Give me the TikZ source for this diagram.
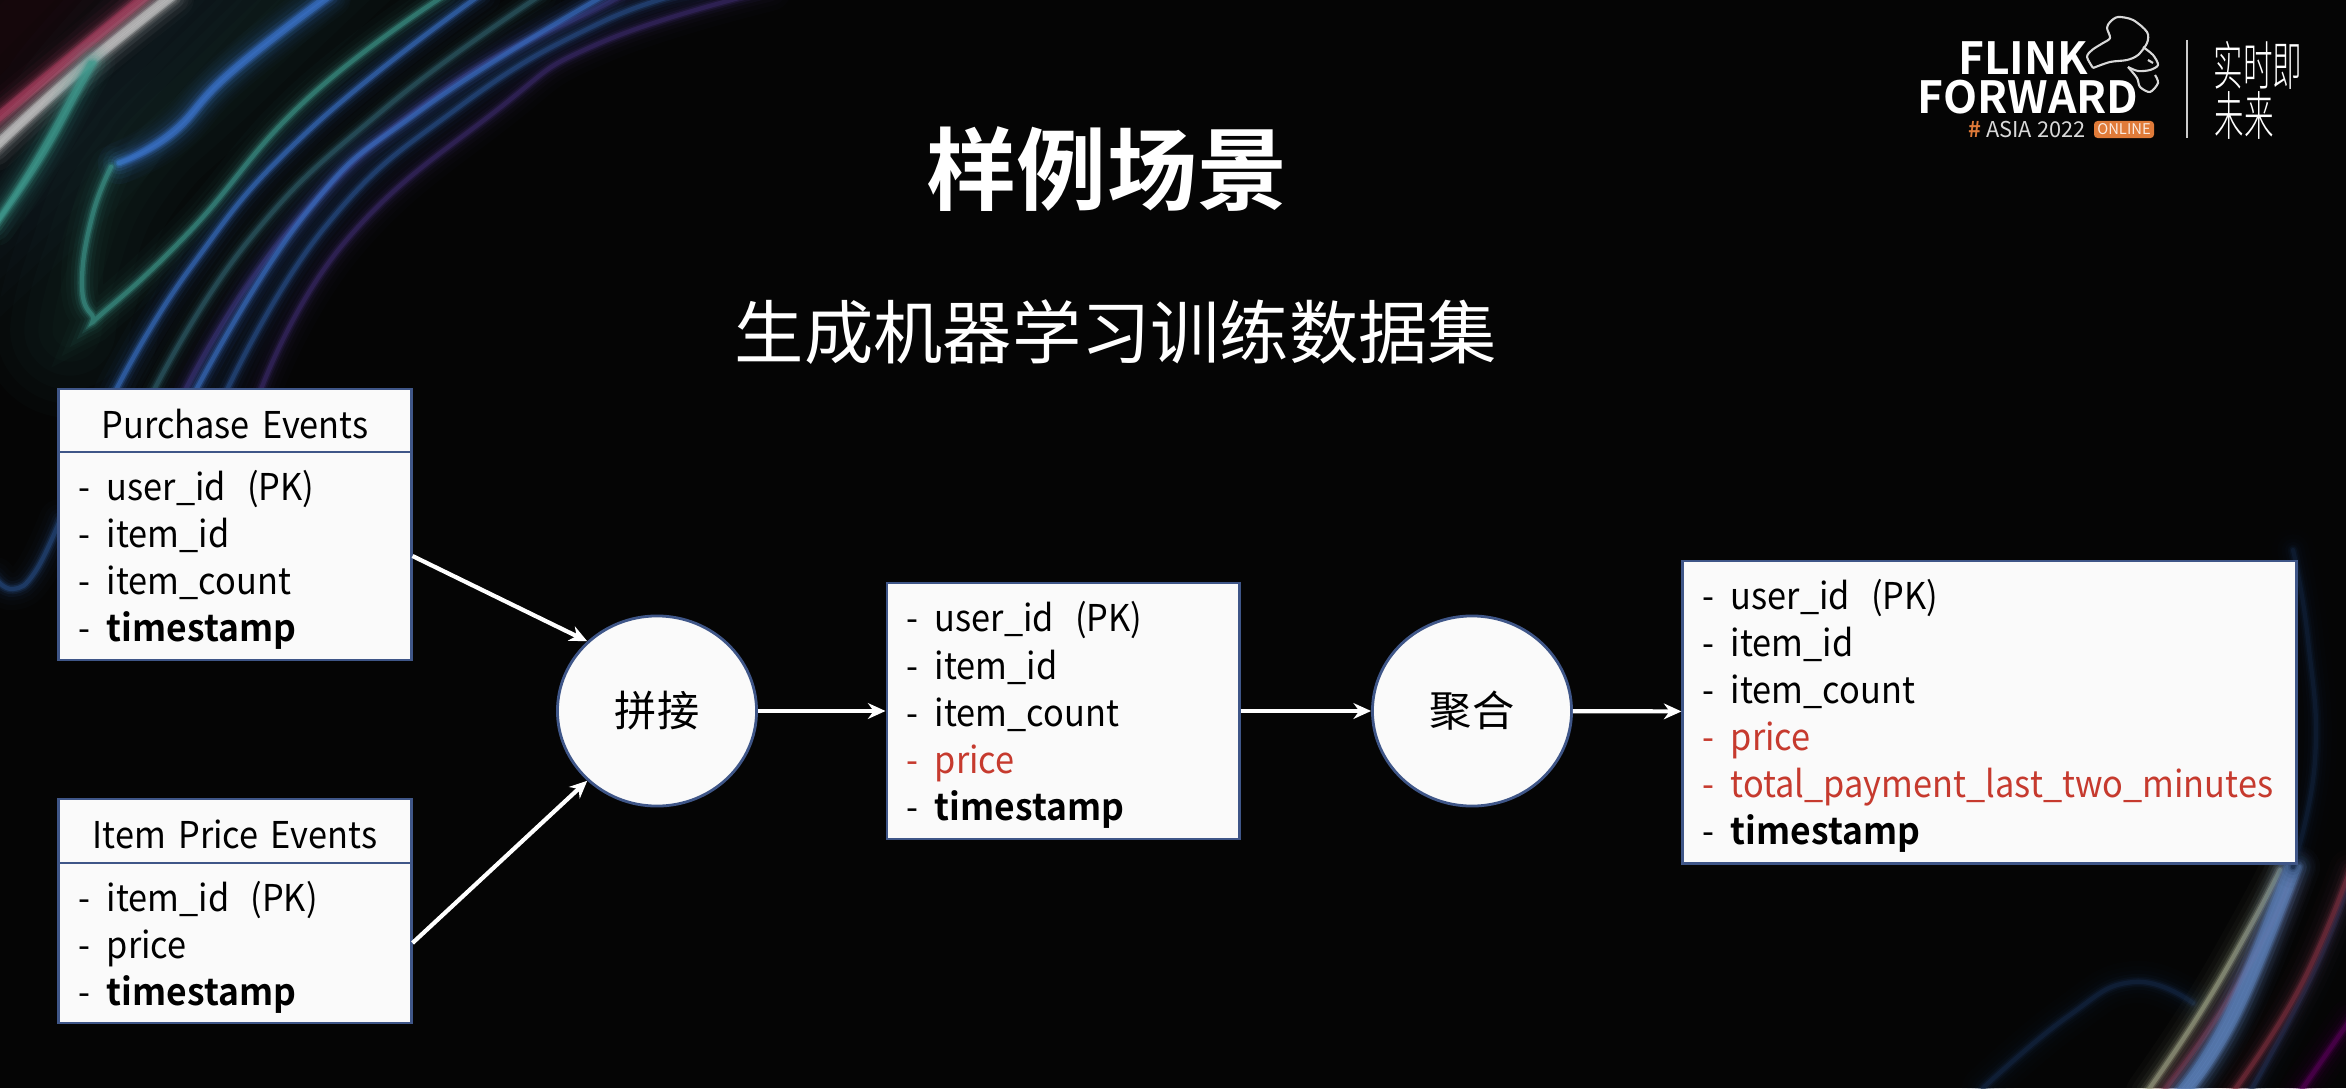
\documentclass[tikz,border=0pt]{standalone}
\usepackage{fontspec}
\setmainfont{Noto Sans CJK SC}[BoldFont={Noto Sans CJK SC Bold}]
\newfontfamily\logolight{Noto Sans CJK SC Light}
\newfontfamily\fieldfont{Noto Sans CJK SC}[FakeStretch=0.93,BoldFont={Noto Sans CJK SC Bold},BoldFeatures={FakeStretch=0.96}]
\usetikzlibrary{arrows.meta,shapes.geometric}
\definecolor{slide}{HTML}{050505}
\definecolor{boxedge}{HTML}{3F5688}
\definecolor{boxfill}{HTML}{FAFAFA}
\definecolor{newfield}{HTML}{C63A2E}
\definecolor{logoorange}{HTML}{E07B39}
\definecolor{sblue}{HTML}{3A72C8}
\definecolor{steal}{HTML}{3F9A8E}
\definecolor{sdim}{HTML}{2F5F6A}
\definecolor{spurple}{HTML}{3B2A6A}
\definecolor{spink}{HTML}{A83A5C}
\definecolor{sred}{HTML}{7E2F3E}
\definecolor{sgreen}{HTML}{A8B090}
\newcommand{\swirl}[2]{\foreach \w/\o in {12pt/.03,9pt/.04,6.5pt/.06,4.5pt/.10,3pt/.16,2pt/.28,1.2pt/.5}
  {\draw[#1,line width=\w,opacity=\o,line cap=round] plot[smooth,tension=0.8] coordinates {#2};}}
\newcommand{\haze}[2]{\foreach \w in {50pt,42pt,34pt,26pt,18pt,10pt}
  {\draw[#1,line width=\w,opacity=.035,line cap=round] plot[smooth,tension=0.8] coordinates {#2};}}
\newcommand{\fld}[1]{\raisebox{-1.3pt}[9pt][3pt]{\makebox[8.1pt][l]{-}#1}}
\tikzset{
  fieldbox/.style={draw=boxedge,fill=boxfill,line width=0.8pt,rectangle,inner xsep=5.5pt,inner ysep=0pt,
    text=black,font=\fontsize{10.5pt}{13.4pt}\fieldfont\selectfont,align=left},
  headbox/.style={fieldbox,align=center,minimum width=3.52cm,text width=3.13cm},
  stepnode/.style={draw=boxedge,fill=boxfill,line width=0.8pt,ellipse,minimum width=1.99cm,minimum height=1.9cm,
    inner sep=0pt,text=black,font=\fontsize{12pt}{14pt}\selectfont},
  flow/.style={draw=white,line width=1.2pt,-{Stealth[length=5pt,width=4.5pt]}},
  logotext/.style={text=white,inner sep=0pt,font=\fontsize{12.6pt}{14pt}\selectfont\bfseries},
  logoline/.style={draw=white!85!black,line width=0.6pt,line join=round}
}
\begin{document}
\begin{tikzpicture}[x=0.01cm,y=-0.01cm]
\useasboundingbox (0,0) rectangle (2346,1088);
\fill[slide] (0,0) rectangle (2346,1088);
\begin{scope}
\clip (0,0) rectangle (2346,1088);
\haze{steal!70!black}{(70,330) (85,270) (130,170) (230,70) (420,-110)}
\haze{sdim}{(-90,280) (60,140) (110,80) (280,-110)}
\haze{spink!60!black}{(-100,130) (110,-80)}
\foreach \s in {-3,3}{\swirl{spink}{(-5,120+\s) (70,58+\s) (147,-5+\s)}}
\foreach \s in {-3,3}{\swirl{white!80!black}{(-5,147+\s) (80,70+\s) (173,-5+\s)}}
\foreach \s in {-2,2}{\swirl{steal}{(-5,225) (38+\s,160) (77+\s,90) (92+\s,63)}}
\foreach \s in {-2,2}{\swirl{sblue}{(119,163) (172,133+\s) (230,73+\s) (330,-5+\s)}}
\swirl{steal}{(111,167) (92,217) (82,283) (92,315) (105,311) (191,230) (306,100) (445,-5)}
\swirl{sblue}{(115,392) (191,267) (306,133) (480,-5)}
\swirl{sdim}{(153,392) (249,240) (383,110) (541,-5)}
\swirl{spurple}{(184,392) (287,233) (440,93) (600,7) (640,-10)}
\swirl{sblue}{(195,392) (306,213) (421,110) (605,-5)}
\swirl{sblue!70!black}{(226,392) (325,227) (459,107) (600,23) (700,-10)}
\swirl{spurple}{(260,392) (344,243) (497,110) (600,43) (770,-10)}
\swirl{sblue!65!black}{(-5,578) (13,589) (35,572) (60,520)}
\swirl{sblue!35!black}{(1983,1088) (2067,1017) (2133,982) (2193,1003)}
\swirl{sgreen}{(2147,1092) (2200,1013) (2250,927) (2280,870)}
\swirl{sred}{(2163,1092) (2220,1013) (2267,933) (2290,880)}
\foreach \s in {-6,-2,2,6}{\swirl{sblue!75!white!85!black}{(2183+\s,1092) (2233+\s,1013) (2293+\s,867)}}
\swirl{sblue!30!black}{(2293,867) (2315,760) (2308,640) (2293,550)}
\swirl{sblue!40!black}{(2250,1092) (2313,973) (2350,880)}
\swirl{sred}{(2233,1092) (2300,987) (2350,870)}
\swirl{violet!70!black}{(2300,1092) (2350,1020)}
\end{scope}
\node[text=white,inner sep=0pt,font=\fontsize{25.6pt}{28pt}\selectfont\bfseries] (title) at (1107,169) {样例场景};
\node[text=white,inner sep=0pt,font=\fontsize{19.7pt}{24pt}\selectfont] (subtitle) at (1116,332) {生成机器学习训练数据集};
\node[headbox,minimum height=0.63cm] (purchasehead) at (235,420.5) {\raisebox{-2pt}[9pt][3pt]{Purchase Events}};
\node[fieldbox,minimum width=3.52cm,minimum height=2.08cm,text width=3.13cm] (purchase) at (235,556)
  {\fld{user\_id\hspace{6pt}(PK)}\\\fld{item\_id}\\\fld{item\_count}\\\fld{\textbf{timestamp}}};
\node[headbox,minimum height=0.64cm] (pricehead) at (235,831) {\raisebox{-2pt}[9pt][3pt]{Item Price Events}};
\node[fieldbox,minimum width=3.52cm,minimum height=1.6cm,text width=3.13cm] (price) at (235,943)
  {\fld{item\_id\hspace{6pt}(PK)}\\\fld{price}\\\fld{\textbf{timestamp}}};
\node[stepnode] (join) at (657,711) {\raisebox{-0.8pt}{拼接}};
\node[fieldbox,minimum width=3.52cm,minimum height=2.56cm,text width=3.13cm] (joined) at (1063,711)
  {\fld{user\_id\hspace{6pt}(PK)}\\\fld{item\_id}\\\fld{item\_count}\\\textcolor{newfield}{\fld{price}}\\\fld{\textbf{timestamp}}};
\node[stepnode] (agg) at (1472,711) {\raisebox{-0.8pt}{聚合}};
\node[fieldbox,minimum width=6.13cm,minimum height=3.02cm,text width=5.74cm] (result) at (1989.5,712)
  {\fld{user\_id\hspace{6pt}(PK)}\\\fld{item\_id}\\\fld{item\_count}\\\textcolor{newfield}{\fld{price}}\\\textcolor{newfield}{\fld{total\_payment\_last\_two\_minutes}}\\\fld{\textbf{timestamp}}};
\draw[flow] (purchase.east) -- (join.135);
\draw[flow] (price.east) -- (join.225);
\draw[flow] (join) -- (joined);
\draw[flow] (joined) -- (agg);
\draw[flow] (agg) -- (result);
\node[logotext] (flink) at (2023,58) {FLINK};
\node[logotext] (forward) at (2028,97) {FORWARD};
\node[text=white!85!black,inner sep=0pt,font=\fontsize{6.2pt}{7pt}\selectfont] (asia) at (2027,130) {\textcolor{logoorange}{\textbf{\#}} ASIA 2022};
\node[fill=logoorange,rounded corners=1pt,minimum width=0.6cm,minimum height=0.17cm,inner sep=0pt,text=white!85!logoorange,font=\fontsize{4.2pt}{5pt}\selectfont] (online) at (2124,129.5) {ONLINE};
\draw[white!80!black,line width=0.5pt] (2187,40) -- (2187,138);
\node[text=white,inner sep=0pt,font=\fontsize{15pt}{16pt}\selectfont\logolight] (slogana) at (2258,65) {\scalebox{0.56}[1]{实时即}};
\node[text=white,inner sep=0pt,font=\fontsize{15pt}{16pt}\selectfont\logolight] (sloganb) at (2244,115) {\scalebox{0.56}[1]{未来}};
\draw[logoline] plot[smooth,tension=0.5] coordinates {(2093,68) (2087,57) (2092,50) (2103,43) (2110,38) (2107,28) (2110,22) (2118,17) (2133,20) (2147,32) (2147,43) (2138,55) (2127,60) (2110,62) (2093,68)};
\draw[logoline] plot[smooth,tension=0.5] coordinates {(2143,47) (2153,55) (2158,65) (2150,70) (2138,71) (2128,67)};
\draw[logoline] plot[smooth,tension=0.5] coordinates {(2128,67) (2137,78) (2140,87) (2150,92) (2158,83) (2155,75)};
\draw[logoline] (2148,60) -- (2153,63);
\end{tikzpicture}
\end{document}
